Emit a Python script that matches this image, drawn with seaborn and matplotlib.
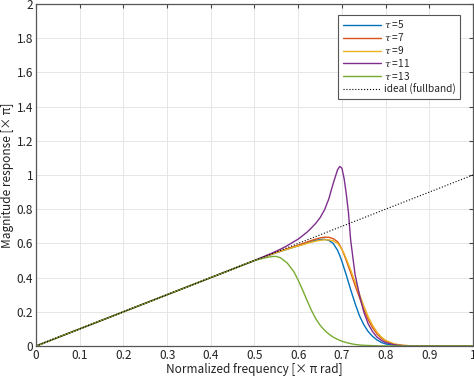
import matplotlib
matplotlib.use("Agg")
import matplotlib.pyplot as plt
import seaborn as sns
import pandas as pd

freq = [0, 0.45, 0.5, 0.525, 0.54, 0.55, 0.56, 0.575, 0.59, 0.6, 0.61, 0.62, 0.63, 0.64, 0.65, 0.66,
        0.67, 0.68, 0.69, 0.695, 0.70, 0.705, 0.71, 0.715, 0.72, 0.73, 0.74, 0.75, 0.76,
        0.77, 0.78, 0.79, 0.80, 0.82, 0.84, 0.86, 0.9, 1.0]

tau5 = [0, 0.45, 0.5, 0.523, 0.536, 0.545, 0.554, 0.566, 0.578, 0.586, 0.594, 0.603, 0.611, 0.618, 0.622, 0.624,
        0.618, 0.60, 0.56, 0.53, 0.495, 0.455, 0.415, 0.372, 0.33, 0.25, 0.178, 0.125, 0.085,
        0.057, 0.036, 0.021, 0.012, 0.004, 0.001, 0, 0, 0]
tau7 = [0, 0.45, 0.5, 0.524, 0.538, 0.547, 0.556, 0.569, 0.582, 0.59, 0.599, 0.608, 0.617, 0.625, 0.632, 0.636,
        0.636, 0.628, 0.61, 0.59, 0.565, 0.535, 0.50, 0.465, 0.43, 0.355, 0.285, 0.215, 0.155,
        0.108, 0.072, 0.046, 0.028, 0.01, 0.003, 0.001, 0, 0]
tau9 = [0, 0.45, 0.5, 0.524, 0.537, 0.546, 0.555, 0.566, 0.578, 0.585, 0.592, 0.60, 0.607, 0.613, 0.618, 0.621,
        0.621, 0.615, 0.60, 0.585, 0.565, 0.54, 0.51, 0.478, 0.445, 0.375, 0.305, 0.235, 0.172,
        0.122, 0.082, 0.053, 0.033, 0.012, 0.004, 0.001, 0, 0]
tau11 = [0, 0.45, 0.5, 0.527, 0.543, 0.555, 0.567, 0.587, 0.61, 0.625, 0.645, 0.665, 0.69, 0.717, 0.75, 0.795,
         0.86, 0.95, 1.03, 1.05, 1.04, 0.98, 0.89, 0.78, 0.62, 0.42, 0.30, 0.20, 0.13,
         0.085, 0.053, 0.033, 0.02, 0.007, 0.002, 0.0005, 0, 0]
tau13 = [0, 0.45, 0.5, 0.516, 0.523, 0.524, 0.515, 0.485, 0.435, 0.385, 0.328, 0.268, 0.21, 0.16, 0.122, 0.093,
         0.07, 0.052, 0.039, 0.033, 0.028, 0.024, 0.02, 0.017, 0.014, 0.009, 0.006, 0.004, 0.003,
         0.002, 0.001, 0.0005, 0, 0, 0, 0, 0, 0]

labels = [r"$\tau$ =5", r"$\tau$ =7", r"$\tau$ =9", r"$\tau$ =11", r"$\tau$ =13"]
series = [tau5, tau7, tau9, tau11, tau13]
colors = ["#0072BD", "#D95319", "#EDB120", "#7E2F8E", "#77AC30"]

ideal_x = [0, 1]
ideal_y = [0, 1]

rows = []
for lab, vals in zip(labels, series):
    for f, v in zip(freq, vals):
        rows.append({"freq": f, "mag": v, "series": lab})
df = pd.DataFrame(rows)
df_ideal = pd.DataFrame({"freq": ideal_x, "mag": ideal_y})

sns.set_style("white")
plt.rcParams["font.family"] = ["Noto Sans CJK JP", "DejaVu Sans"]
plt.rcParams["mathtext.fontset"] = "dejavuserif"

fig = plt.figure(figsize=(4.74, 3.8), dpi=100)
ax = fig.add_axes([36 / 474, 1 - 346 / 380, 437 / 474, 342 / 380])

sns.lineplot(data=df, x="freq", y="mag", hue="series", palette=colors,
             hue_order=labels, linewidth=1.0, ax=ax, sort=False)
sns.lineplot(data=df_ideal, x="freq", y="mag", color="black", linestyle=":",
             linewidth=0.8, ax=ax, label="ideal (fullband)")

ax.set_xlim(0, 1)
ax.set_ylim(0, 2)
ax.set_xticks([i / 10 for i in range(11)])
ax.set_xticklabels(["0", "0.1", "0.2", "0.3", "0.4", "0.5", "0.6", "0.7", "0.8", "0.9", "1"])
ax.set_yticks([i / 5 for i in range(11)])
ax.set_yticklabels(["0", "0.2", "0.4", "0.6", "0.8", "1", "1.2", "1.4", "1.6", "1.8", "2"])
ax.grid(True, color="#e6e6e6", linewidth=0.7)
ax.tick_params(direction="in", length=3, width=0.8, labelsize=8.5, color="#444444",
               labelcolor="#222222", top=True, right=True, pad=2)
for s in ax.spines.values():
    s.set_color("#555555")
    s.set_linewidth(0.9)
ax.set_xlabel("Normalized frequency [× π rad]", fontsize=8.5, labelpad=1, color="#222222")
ax.set_ylabel("Magnitude response [× π]", fontsize=8.5, labelpad=2, color="#222222")

leg = ax.legend(loc="upper right", bbox_to_anchor=(0.970, 0.968), borderaxespad=0,
                fontsize=7.3, labelspacing=0.15, handlelength=3.8, handletextpad=0.3,
                fancybox=False, framealpha=1, edgecolor="#555555", borderpad=0.4)
leg.get_frame().set_linewidth(0.8)

fig.savefig("out.png", dpi=100)
